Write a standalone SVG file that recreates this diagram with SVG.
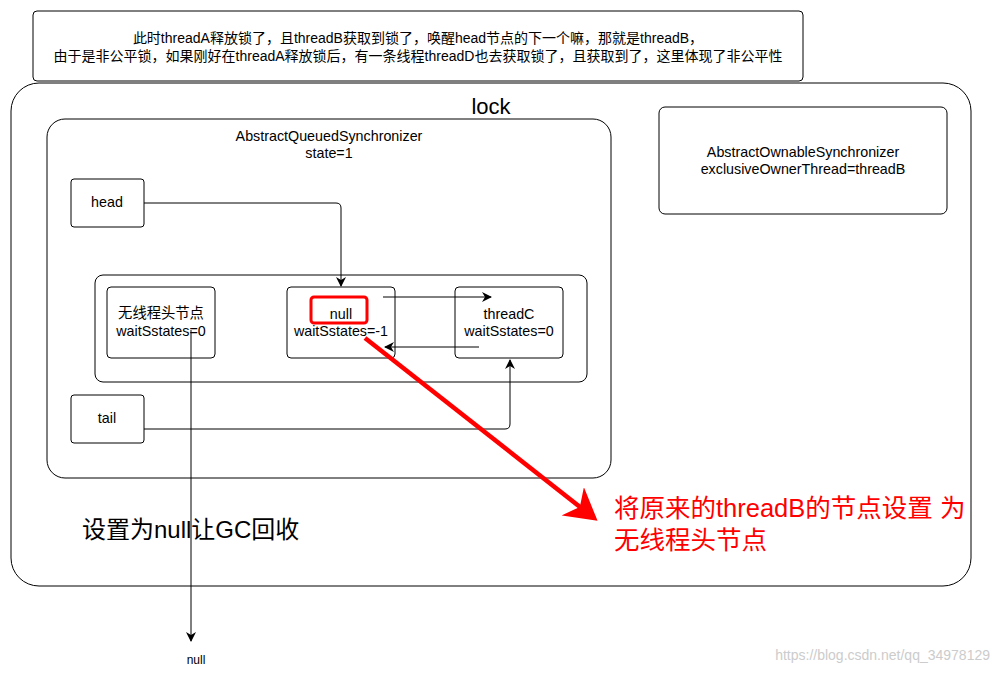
<svg xmlns="http://www.w3.org/2000/svg" width="999" height="673" viewBox="0 0 999 673">
<style>
.b{fill:#fff;stroke:#000;stroke-width:1}
.t{font-family:"Liberation Sans","Noto Sans CJK SC",sans-serif;font-size:14.3px;text-anchor:middle;fill:#000}
.c{fill:none;stroke:#000;stroke-width:1}
</style>
<defs>
<marker id="a" markerWidth="10" markerHeight="10" refX="9" refY="5" orient="auto" markerUnits="userSpaceOnUse"><path d="M0,0 L10,5 L0,10 L3,5 Z" fill="#000"/></marker>
<marker id="r" markerWidth="8" markerHeight="8" refX="6" refY="4" orient="auto"><path d="M0,0 L7,4 L0,8 L2,4 Z" fill="#f00"/></marker>
</defs>
<rect width="999" height="673" fill="#fff"/>
<g id="note"><rect class="b" x="33" y="11" width="770" height="70" rx="4"/>
<text class="t" x="418" y="43" style="font-size:14px">此时threadA释放锁了，且threadB获取到锁了，唤醒head节点的下一个嘛，那就是threadB，</text>
<text class="t" x="418" y="61" style="font-size:14px">由于是非公平锁，如果刚好在threadA释放锁后，有一条线程threadD也去获取锁了，且获取到了，这里体现了非公平性</text></g>
<g id="lock"><rect class="b" x="11" y="83" width="960" height="503" rx="28"/>
<text class="t" x="491" y="114" style="font-size:22px">lock</text></g>
<g id="aqs"><rect class="b" x="47" y="119" width="564" height="359" rx="18"/>
<text class="t" x="329" y="141">AbstractQueuedSynchronizer</text><text class="t" x="329" y="158">state=1</text></g>
<g id="aos"><rect class="b" x="659" y="107" width="288" height="107" rx="6"/>
<text class="t" x="803" y="157">AbstractOwnableSynchronizer</text><text class="t" x="803" y="174">exclusiveOwnerThread=threadB</text></g>
<g id="head"><rect class="b" x="71" y="179" width="73" height="48" rx="3"/><text class="t" x="107" y="207">head</text></g>
<g id="tail"><rect class="b" x="71" y="395" width="73" height="48" rx="3"/><text class="t" x="107" y="423">tail</text></g>
<g id="queue"><rect class="b" x="95" y="275" width="492" height="107" rx="8"/></g>
<g id="n1"><rect class="b" x="107" y="287" width="108" height="71" rx="4"/><text class="t" x="161" y="318">无线程头节点</text><text class="t" x="161" y="336">waitSstates=0</text></g>
<g id="n2"><rect class="b" x="287" y="287" width="108" height="71" rx="4"/><text class="t" x="341" y="319">null</text><text class="t" x="341" y="336">waitSstates=-1</text>
<rect x="311" y="297" width="56" height="26" rx="3" fill="none" stroke="#f00" stroke-width="3"/></g>
<g id="n3"><rect class="b" x="455" y="287" width="108" height="71" rx="4"/><text class="t" x="509" y="319">threadC</text><text class="t" x="509" y="336">waitSstates=0</text></g>
<g id="connectors">
<path class="c" d="M144,203 H336 Q341,203 341,208 V286" marker-end="url(#a)"/>
<path class="c" d="M383,297 H491" marker-end="url(#a)"/>
<path class="c" d="M479,347 H385" marker-end="url(#a)"/>
<path class="c" d="M144,429 H505 Q510,429 510,424 V360" marker-end="url(#a)"/>
<path class="c" d="M191,330 V641" marker-end="url(#a)"/>
<path d="M365,338 L594,518" stroke="#f00" stroke-width="4.5" fill="none" marker-end="url(#r)"/>
</g>
<text class="t" x="196" y="664" style="font-size:12px">null</text>
<text x="82" y="538" style="font-family:'Liberation Sans','Noto Sans CJK SC',sans-serif;font-size:24px">设置为null让GC回收</text>
<text x="614" y="517" fill="#f00" style="font-family:'Liberation Sans','Noto Sans CJK SC',sans-serif;font-size:25.5px">将原来的threadB的节点设置 为</text>
<text x="614" y="549" fill="#f00" style="font-family:'Liberation Sans','Noto Sans CJK SC',sans-serif;font-size:25.5px">无线程头节点</text>
<text x="990" y="660" text-anchor="end" fill="#ccc" style="font-family:'Liberation Sans',sans-serif;font-size:14px">https://blog.csdn.net/qq_34978129</text>
</svg>
